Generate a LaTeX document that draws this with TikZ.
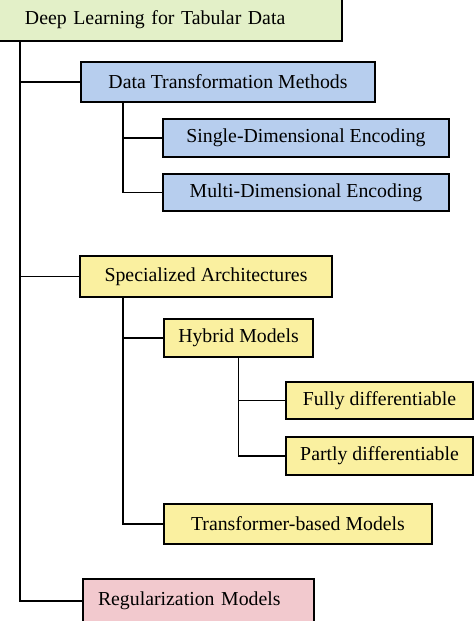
\documentclass[tikz,border=0pt]{standalone}
\usepackage{fontspec}
\setmainfont{Liberation Serif}
\definecolor{rootgreen}{RGB}{227,240,200}
\definecolor{methblue}{RGB}{183,206,238}
\definecolor{archyellow}{RGB}{250,240,160}
\definecolor{regpink}{RGB}{242,201,206}
\tikzset{
  box/.style={draw, line width=0.9pt, inner sep=0pt, minimum height=19pt, font=\fontsize{9.9}{12}\selectfont},
  rootbox/.style={box, fill=rootgreen},
  bluebox/.style={box, fill=methblue},
  yellowbox/.style={box, fill=archyellow},
  pinkbox/.style={box, fill=regpink},
  link/.style={line width=0.9pt}
}
\begin{document}
\begin{tikzpicture}[x=0.5pt, y=-0.5pt]
    \useasboundingbox (0,0) rectangle (474,621);
    \node (root) [rootbox, minimum width=171.5pt, minimum height=21pt, text width=145.5pt, align=left] at (170.5,20) {Deep Learning for Tabular Data};
    \node (dtm) [bluebox, minimum width=147pt, minimum height=20pt] at (228,82) {Data Transformation Methods};
    \node (single) [bluebox, minimum width=143pt] at (306,138) {Single-Dimensional Encoding};
    \node (multi) [bluebox, minimum width=143pt, minimum height=18.5pt] at (306,192.5) {Multi-Dimensional Encoding};
    \node (spec) [yellowbox, minimum width=126pt, minimum height=20.5pt] at (206,276.5) {Specialized Architectures};
    \node (hybrid) [yellowbox, minimum width=74.5pt] at (238.5,338) {Hybrid Models};
    \node (fully) [yellowbox, minimum width=93.5pt, minimum height=18.5pt] at (379.5,400.5) {Fully differentiable};
    \node (partly) [yellowbox, minimum width=93.5pt] at (379.5,456) {Partly differentiable};
    \node (trans) [yellowbox, minimum width=134pt, minimum height=20pt] at (298,524) {Transformer-based Models};
    \node (reg) [pinkbox, minimum width=115.5pt, minimum height=22pt, text width=100.5pt, align=left] at (198.5,601) {Regularization Models};
    % trunks
    \coordinate (trunk) at (20,41);
    \draw[link] (trunk) |- (dtm.west);
    \draw[link] (trunk) |- (spec.west);
    \draw[link] (trunk) |- (reg.west);
    \draw[link] ([xshift=21.5pt]dtm.south west) |- (single.west);
    \draw[link] ([xshift=21.5pt]dtm.south west) |- (multi.west);
    \draw[link] ([xshift=22pt]spec.south west) |- (hybrid.west);
    \draw[link] ([xshift=22pt]spec.south west) |- (trans.west);
    \draw[link] (hybrid.south) |- (fully.west);
    \draw[link] (hybrid.south) |- (partly.west);
\end{tikzpicture}
\end{document}
